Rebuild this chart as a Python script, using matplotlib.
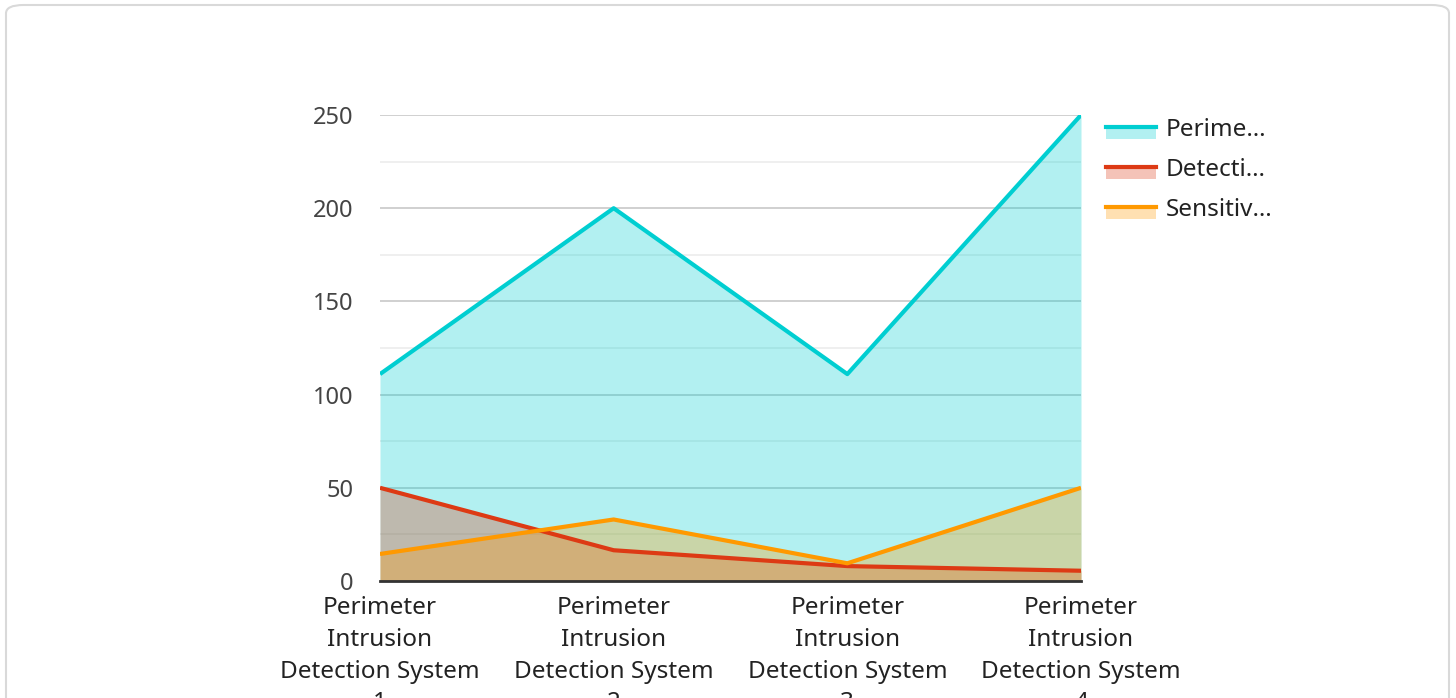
import matplotlib
matplotlib.use("Agg")
import matplotlib.pyplot as plt
from matplotlib.patches import FancyBboxPatch, Rectangle
from matplotlib.lines import Line2D
from matplotlib.legend_handler import HandlerBase

plt.rcParams['font.family'] = ['Noto Sans', 'DejaVu Sans']

categories = ["Perimeter\nIntrusion\nDetection System\n1",
              "Perimeter\nIntrusion\nDetection System\n2",
              "Perimeter\nIntrusion\nDetection System\n3",
              "Perimeter\nIntrusion\nDetection System\n4"]
series_names = ["Perime…", "Detecti…", "Sensitiv…"]
perimeter = [111, 200, 111, 250]
detection = [50, 16.5, 8, 5.5]
sensitivity = [14.5, 33, 9.5, 50]
colors = ["#00CED1", "#DD3A14", "#FF9900"]
yticks = [0, 50, 100, 150, 200, 250]

fig = plt.figure(figsize=(14.56, 6.98), dpi=100)
fig.patches.append(FancyBboxPatch((6/1456, -0.05), (1443/1456), 1.05 - 5/698,
                                  boxstyle="round,pad=0,rounding_size=0.012",
                                  transform=fig.transFigure, facecolor="white",
                                  edgecolor="#d9d9d9", linewidth=1.5, zorder=-10))

ax = fig.add_axes([380/1456, 1 - 581/698, (1081 - 380)/1456, (581 - 115)/698])
ax.set_facecolor("none")
x = list(range(len(categories)))

for i, (vals, c) in enumerate(zip([perimeter, detection, sensitivity], colors)):
    ax.fill_between(x, 0, vals, color=c, alpha=0.3, linewidth=0, zorder=2 + i)
    ax.plot(x, vals, color=c, linewidth=3, zorder=6 + i, solid_capstyle="butt")

ax.set_xlim(0, 3)
ax.set_ylim(0, 250)
ax.set_yticks(yticks)
ax.set_yticks([25, 75, 125, 175, 225], minor=True)
ax.grid(axis="y", which="major", color="#c8c8c8", linewidth=1.2, zorder=1)
ax.grid(axis="y", which="minor", color="#ececec", linewidth=1.2, zorder=1)
ax.set_axisbelow(True)
for s in ["top", "right", "left"]:
    ax.spines[s].set_visible(False)
ax.spines["bottom"].set_color("#333333")
ax.spines["bottom"].set_linewidth(2)
ax.spines["bottom"].set_zorder(10)
ax.set_xticks(x)
ax.set_xticklabels(categories, fontsize=17.5, color="#222222", linespacing=1.43)
ax.tick_params(axis="x", length=0, pad=11)
ax.tick_params(axis="y", which="both", length=0, pad=19, labelsize=17, labelcolor="#444444")


class AreaHandler(HandlerBase):
    def __init__(self, color):
        super().__init__()
        self.color = color

    def create_artists(self, legend, orig_handle, xdescent, ydescent, width, height, fontsize, trans):
        mid = -ydescent + height / 2
        ph = 0.46 * fontsize
        patch = Rectangle((-xdescent, mid - ph), width, ph,
                          facecolor=self.color, alpha=0.3, edgecolor="none", transform=trans)
        line = Line2D([-xdescent, -xdescent + width], [mid, mid],
                      color=self.color, linewidth=3, transform=trans)
        return [patch, line]


handles = [Line2D([], [], color=c) for c in colors]
leg = fig.legend(handles, series_names, loc="upper left",
                 bbox_to_anchor=(1084/1456, 1 - 96/698), frameon=False,
                 fontsize=17.5, handlelength=2.05, handleheight=0.7, handletextpad=0.42,
                 labelspacing=0.66,
                 handler_map={h: AreaHandler(c) for h, c in zip(handles, colors)})
for t in leg.get_texts():
    t.set_color("#222222")

fig.savefig("out.png", dpi=100)
